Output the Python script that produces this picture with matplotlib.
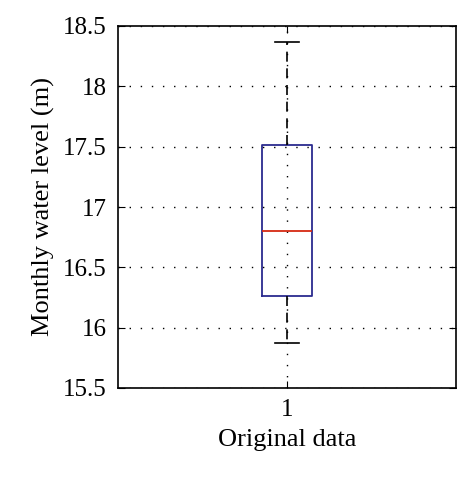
import matplotlib
matplotlib.use("Agg")
import matplotlib.pyplot as plt
from matplotlib.ticker import FuncFormatter

labels = ["1"]
whislo = [15.87]
q1 = [16.26]
med = [16.80]
q3 = [17.51]
whishi = [18.37]

plt.rcParams['font.family'] = ['Liberation Serif', 'DejaVu Serif']
fig = plt.figure(figsize=(4.74, 4.82), dpi=100)
ax = fig.add_axes([118/474, 1-388/482, 338/474, 362/482])

stats = [dict(label=labels[i], whislo=whislo[i], q1=q1[i], med=med[i], q3=q3[i], whishi=whishi[i], fliers=[])
         for i in range(len(labels))]
ax.bxp(stats, positions=[1], widths=0.15, showfliers=False,
       boxprops=dict(color='#2b2b8f', linewidth=1.3),
       medianprops=dict(color='#d62a12', linewidth=1.3),
       whiskerprops=dict(color='black', linestyle=(0, (6, 4)), linewidth=1.2),
       capprops=dict(color='black', linewidth=1.2), capwidths=0.07)
ax.set_xlim(0.5, 1.5)
ax.set_ylim(15.5, 18.5)
ax.set_yticks([15.5, 16, 16.5, 17, 17.5, 18, 18.5])
ax.yaxis.set_major_formatter(FuncFormatter(lambda v, p: f"{v:g}"))
ax.set_xticks([1])
ax.set_xticklabels(labels)
ax.grid(True, color='black', linestyle=(0, (1, 7)), linewidth=1.0)
ax.set_axisbelow(True)
ax.tick_params(labelsize=18, direction='in', length=5, top=True, right=True, pad=8)
for s in ax.spines.values():
    s.set_linewidth(1.2)
ax.set_ylabel("Monthly water level (m)", fontsize=19, labelpad=6)
ax.set_xlabel("Original data", fontsize=19, labelpad=6)
fig.savefig("out.png", dpi=100)
